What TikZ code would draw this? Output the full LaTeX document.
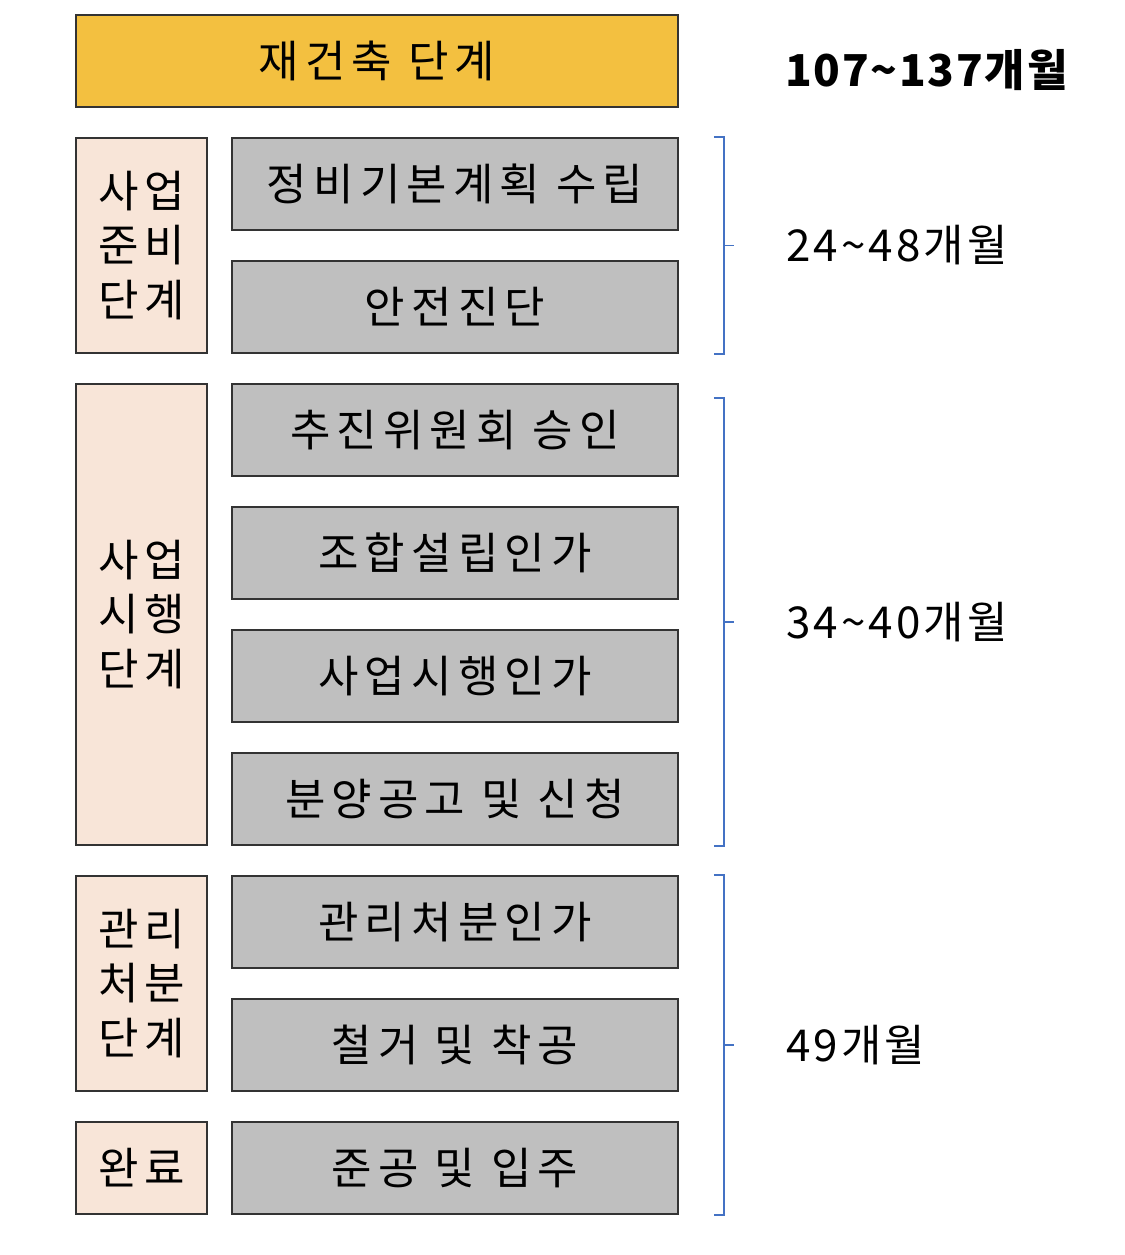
\documentclass[tikz,border=0pt]{standalone}
\usepackage{fontspec}
\setmainfont{Noto Sans CJK KR}[LetterSpace=14]
\newfontfamily\periodfont{Noto Sans CJK KR}[LetterSpace=7]
\newfontfamily\totalfont{Noto Sans CJK KR}[LetterSpace=4]
\usepackage{tikz}
\usetikzlibrary{positioning, calc}
\definecolor{titlegold}{HTML}{F3C040}
\definecolor{stagepink}{HTML}{F8E5D8}
\definecolor{stepgray}{HTML}{BFBFBF}
\definecolor{braceblue}{HTML}{4472C4}
\tikzstyle{title} = [rectangle, minimum width=12.04cm, minimum height=1.84cm, text centered, draw=black!80, line width=1pt, fill=titlegold]
\tikzstyle{stage} = [rectangle, minimum width=2.62cm, align=center, draw=black!80, line width=1pt, fill=stagepink]
\tikzstyle{stepbox} = [rectangle, minimum width=8.92cm, minimum height=1.84cm, text centered, draw=black!80, line width=1pt, fill=stepgray]
\tikzstyle{bracket} = [draw=braceblue, line width=1pt]
\tikzstyle{period} = [anchor=west, inner sep=0pt, font=\fontsize{25}{31}\periodfont]

\begin{document}
\begin{tikzpicture}[node distance=2.46cm, font=\fontsize{25}{31}\selectfont]
\useasboundingbox (0,0) rectangle (22.5,-25.1);

\node (title) [title] at (7.54,-1.22) {재건축 단계};
\node (plan) [stepbox] at (9.1,-3.68) {정비기본계획 수립};
\node (safety) [stepbox, below of=plan] {안전진단};
\node (approve) [stepbox, below of=safety] {추진위원회 승인};
\node (union) [stepbox, below of=approve] {조합설립인가};
\node (permit) [stepbox, below of=union] {사업시행인가};
\node (sale) [stepbox, below of=permit] {분양공고 및 신청};
\node (mgmt) [stepbox, below of=sale] {관리처분인가};
\node (build) [stepbox, below of=mgmt] {철거 및 착공};
\node (move) [stepbox, below of=build] {준공 및 입주};

\node (prep) [stage, minimum height=4.3cm] at ($(plan)!0.5!(safety)+(-6.27,0)$) {사업\\준비\\단계};
\node (exec) [stage, minimum height=9.22cm] at ($(approve)!0.5!(sale)+(-6.27,0)$) {사업\\시행\\단계};
\node (dispose) [stage, minimum height=4.3cm] at ($(mgmt)!0.5!(build)+(-6.27,0)$) {관리\\처분\\단계};
\node (done) [stage, minimum height=1.84cm] at ($(move)+(-6.27,0)$) {완료};

% brackets on the right
\coordinate (b1top) at ($(plan.north east)+(0.9,0)$);
\coordinate (b1bot) at ($(safety.south east)+(0.9,0)$);
\coordinate (b1mid) at ($(b1top)!0.5!(b1bot)$);
\coordinate (b2top) at ($(approve.north east)+(0.9,-0.3)$);
\coordinate (b2bot) at ($(sale.south east)+(0.9,0)$);
\coordinate (b2mid) at ($(b2top)!0.5!(b2bot)$);
\coordinate (b3top) at ($(mgmt.north east)+(0.9,0)$);
\coordinate (b3bot) at ($(move.south east)+(0.9,0)$);
\coordinate (b3mid) at ($(b3top)!0.5!(b3bot)$);

\draw [bracket] ($(b1top)+(-0.2,0)$) -- (b1top) -- (b1bot) -- ($(b1bot)+(-0.2,0)$);
\draw [bracket] (b1mid) -- ++(0.2,0);
\draw [bracket] ($(b2top)+(-0.2,0)$) -- (b2top) -- (b2bot) -- ($(b2bot)+(-0.2,0)$);
\draw [bracket] (b2mid) -- ++(0.2,0);
\draw [bracket] ($(b3top)+(-0.2,0)$) -- (b3top) -- (b3bot) -- ($(b3bot)+(-0.2,0)$);
\draw [bracket] (b3mid) -- ++(0.2,0);

\node (total) [period, font=\fontsize{25}{31}\totalfont\bfseries] at (15.7,-1.4) {107\textasciitilde137개월};
\node (t1) [period] at ($(b1mid)+(1.24,0)$) {24\textasciitilde48개월};
\node (t2) [period] at ($(b2mid)+(1.24,0)$) {34\textasciitilde40개월};
\node (t3) [period] at ($(b3mid)+(1.24,0)$) {49개월};

\end{tikzpicture}
\end{document}
